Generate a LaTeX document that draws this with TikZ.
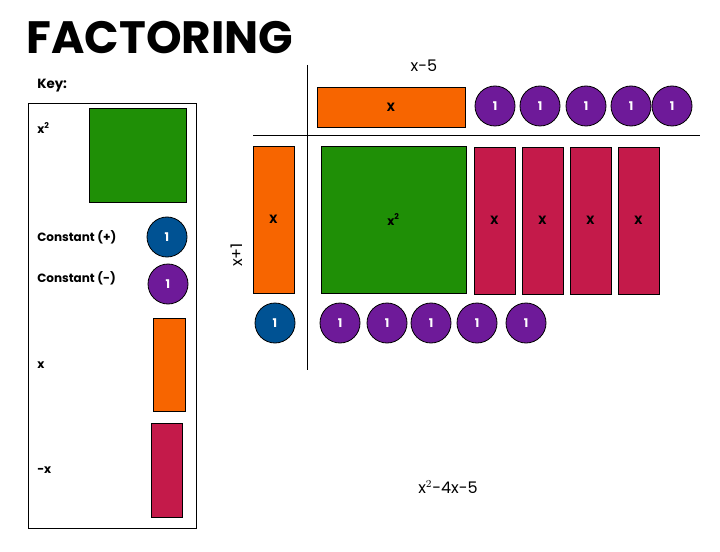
\documentclass[tikz,border=0pt]{standalone}
\usepackage{fontspec}
\setmainfont{Poppins}
\begin{document}
\definecolor{tgreen}{HTML}{1F8F06}
\definecolor{torange}{HTML}{F76500}
\definecolor{tblue}{HTML}{005293}
\definecolor{tpurple}{HTML}{6E1A99}
\definecolor{tred}{HTML}{C41A4A}
\begin{tikzpicture}[x=0.75pt,y=-0.75pt,
  tile/.style={draw=black,line width=0.6pt},
  one/.style={circle,draw=black,line width=0.6pt,minimum size=30pt,inner sep=0pt,text=white,font=\bfseries\small},
  lbl/.style={font=\bfseries\small,anchor=west,inner sep=0pt},
  big/.style={font=\large}]
\useasboundingbox (0,0) rectangle (720,552);
\node[font=\fontsize{34}{34}\selectfont\bfseries,inner sep=0pt] (title) at (160,38) {FACTORING};
\node[lbl,font=\bfseries] (key) at (37,86) {Key:};
\draw[line width=0.6pt] (28,103) rectangle (196,528);
\node[lbl] (kx2) at (37,128) {x$^{\mathbf 2}$};
\draw[tile,fill=tgreen] (89,108) rectangle (186,202);
\node[lbl] (kcp) at (37,237) {Constant (+)};
\node[one,fill=tblue] (kb) at (167,237) {1};
\node[lbl] (kcm) at (37,278) {Constant (-)};
\node[one,fill=tpurple] (kp) at (168,284) {1};
\node[lbl] (kx) at (37,365) {x};
\draw[tile,fill=torange] (153,318) rectangle (185,411);
\node[lbl] (kmx) at (37,470) {-x};
\draw[tile,fill=tred] (151,423) rectangle (182,517);
% axes
\draw[line width=0.6pt] (307,65) -- (307,370);
\draw[line width=0.6pt] (253,135) -- (700,135);
\node[big] (top) at (424,66) {x-5};
\node[big,rotate=90] (side) at (237,255) {x+1};
\draw[tile,fill=torange] (317,87) rectangle node[font=\bfseries\small]{X} (465,127);
\foreach \x/\n in {495/a,540/b,586/c,631/d,672/e}
  \node[one,fill=tpurple] (t\n) at (\x,106) {1};
\draw[tile,fill=torange] (253,146) rectangle node[font=\bfseries\small]{X} (294,293);
\node[one,fill=tblue] (sb) at (275,323) {1};
\draw[tile,fill=tgreen] (321,146) rectangle node[font=\bfseries\small]{x$^{\mathbf 2}$} (466,293);
\foreach \x in {474,522,570,618}
  \draw[tile,fill=tred] (\x,147) rectangle node[font=\bfseries\small]{X} (\x+41,294);
\foreach \x/\n in {340/a,387/b,431/c,477/d,526/e}
  \node[one,fill=tpurple] (b\n) at (\x,323) {1};
\node[big] (res) at (448,487) {x$^2$-4x-5};
\end{tikzpicture}
\end{document}
